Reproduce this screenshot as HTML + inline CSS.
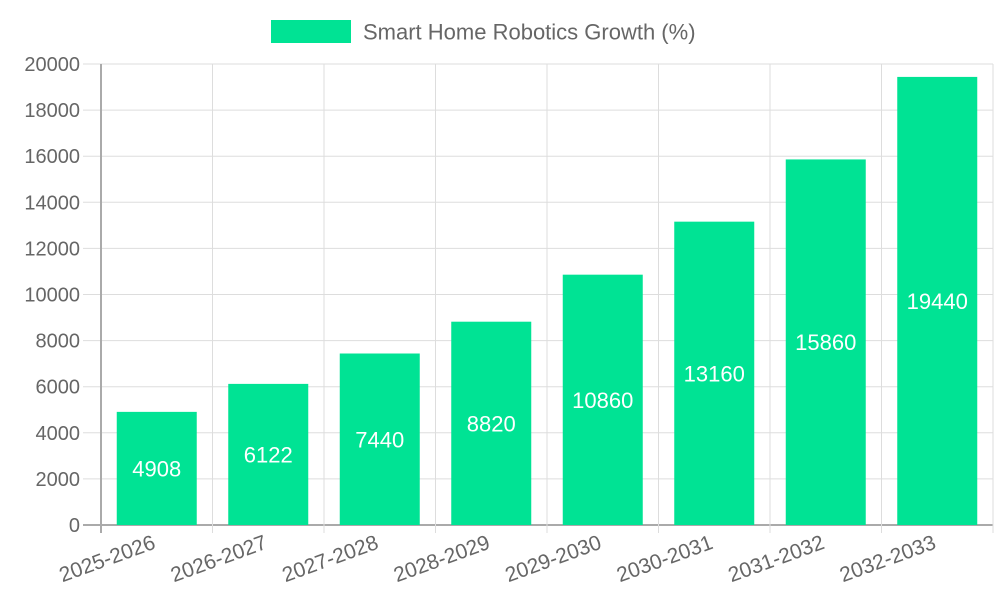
<!DOCTYPE html>
<html><head><meta charset="utf-8"><style>body{margin:0;background:#fff}svg{display:block;font-family:"Liberation Sans",sans-serif}</style></head>
<body>
<svg id="chart" width="1000" height="600" viewBox="0 0 1000 600">
<g>
<rect x="271" y="20" width="80" height="23" fill="#00e394"/>
<text x="363" y="39.5" font-size="22" fill="#666">Smart Home Robotics Growth (%)</text>
</g>
<g id="grid"></g><g id="bars"></g><g id="axes"></g>
</svg>
<script>
const categories=["2025-2026","2026-2027","2027-2028","2028-2029","2029-2030","2030-2031","2031-2032","2032-2033"];
const values=[4908,6122,7440,8820,10860,13160,15860,19440];
const yTicks=[0,2000,4000,6000,8000,10000,12000,14000,16000,18000,20000];
const NS="http://www.w3.org/2000/svg";
const L=101,R=993,T=64,B=525,yMax=20000;
const bw=(R-L)/categories.length;
const y=v=>B-(v/yMax)*(B-T);
const x=i=>L+i*bw;
function mk(p,t,a){const e=document.createElementNS(NS,t);for(const k in a)e.setAttribute(k,a[k]);p.appendChild(e);return e;}
const grid=document.getElementById('grid'),bars=document.getElementById('bars'),axes=document.getElementById('axes');
yTicks.forEach(v=>{
 const g=mk(grid,'line',{x1:L-18,x2:R,y1:y(v),y2:y(v),stroke:v===0?'#aaa':'#ddd','stroke-width':v===0?2:1});
 
 
 const t=mk(axes,'text',{x:L-21,y:y(v)+7,'text-anchor':'end','font-size':20,fill:'#666'});
 t.textContent=v;
 
 
});
for(let i=0;i<=categories.length;i++){
 const g=mk(grid,'line',{x1:x(i),x2:x(i),y1:T,y2:B+8,stroke:i===0?'#aaa':'#ddd','stroke-width':i===0?2:1});
 
 
}
categories.forEach((c,i)=>{
 const cx=x(i)+bw/2,w=80;
 const r=mk(bars,'rect',{x:cx-w/2,y:y(values[i]),width:w,height:B-y(values[i]),fill:'#00e394'});
 
 
 const t=mk(bars,'text',{x:cx,y:(y(values[i])+B)/2+8,'text-anchor':'middle','font-size':22,fill:'#fff'});
 t.textContent=values[i];
 
 
 const xl=mk(axes,'text',{x:cx,y:548,'text-anchor':'end','font-size':21,fill:'#666',transform:`rotate(-20 ${cx} 548)`});
 xl.textContent=c;
 
 
});
</script>
</body></html>
